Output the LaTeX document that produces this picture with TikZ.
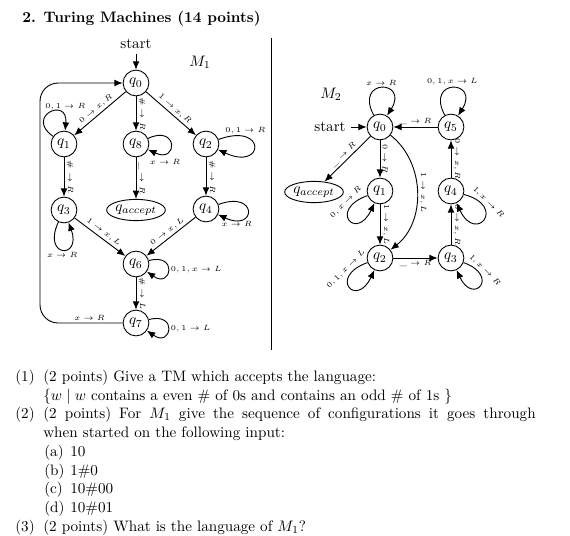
\documentclass[tikz,border=0pt]{standalone}
\usetikzlibrary{arrows.meta,positioning,shapes.geometric}
\begin{document}
\begin{tikzpicture}[x=0.66pt,y=-0.66pt,
    >={Latex[length=5.5pt,width=4.5pt]},
    tmstate/.style={circle,draw,semithick,minimum size=17pt,inner sep=0pt},
    acc/.style={ellipse,draw,semithick,minimum width=34pt,minimum height=14pt,inner sep=0pt},
    trans/.style={->,semithick},
    lbl/.style={font=\tiny,inner sep=1.5pt},
    vlbl/.style={lbl,rotate=-90,anchor=south},
    txt/.style={anchor=base west,inner sep=0pt}]
 \useasboundingbox (0,0) rectangle (570,536);
 \node[txt,font=\bfseries] (title) at (22,22) {2. Turing Machines (14 points)};
 % machine M1
 \node (start1) at (136,44) {start};
 \node (m1) at (200,62) {$M_1$};
 \node[tmstate] (q0) at (136,83) {$q_0$};
 \node[tmstate] (q1) at (64,144) {$q_1$};
 \node[tmstate] (q8) at (136,144) {$q_8$};
 \node[tmstate] (q2) at (206,144) {$q_2$};
 \node[tmstate] (q3) at (64,210) {$q_3$};
 \node[acc] (qacc) at (136,210) {$q_{accept}$};
 \node[tmstate] (q4) at (206,209) {$q_4$};
 \node[tmstate] (q6) at (136,264) {$q_6$};
 \node[tmstate] (q7) at (136,323) {$q_7$};
 \draw[trans] (start1) -- (q0);
 \draw[trans] (q0) -- node[lbl,sloped,above] {$0\to x,R$} (q1);
 \draw[trans] (q0) -- node[vlbl] {$\#\to R$} (q8);
 \draw[trans] (q0) -- node[lbl,sloped,above] {$1\to x,R$} (q2);
 \draw[trans] (q1) -- node[vlbl] {$\#\to R$} (q3);
 \draw[trans] (q8) -- node[vlbl] {$\_\to R$} (qacc);
 \draw[trans] (q2) -- node[vlbl] {$\#\to R$} (q4);
 \draw[trans] (q3) -- node[lbl,sloped,above] {$1\to x,L$} (q6);
 \draw[trans] (q4) -- node[lbl,sloped,above] {$0\to x,L$} (q6);
 \draw[trans] (q6) -- node[vlbl] {$\#\to L$} (q7);
 \draw[trans,rounded corners=12pt] (q7) -- node[lbl,above,pos=0.4] {$x\to R$} ++(-96,0) |- (q0);
 \draw[trans] (q1) to[out=145,in=85,min distance=23pt] node[lbl,above,pos=0.55,xshift=9pt] {$0,1\to R$} (q1);
 \draw[trans] (q8) to[out=25,in=-25,min distance=22pt] node[lbl,below=3pt,pos=0.75] {$x\to R$} (q8);
 \draw[trans] (q2) to[out=20,in=-25,min distance=34pt] node[lbl,above,pos=0.25] {$0,1\to R$} (q2);
 \draw[trans] (q3) to[out=-115,in=-70,min distance=26pt] node[lbl,below] {$x\to R$} (q3);
 \draw[trans] (q4) to[out=20,in=-25,min distance=28pt] node[lbl,below,pos=0.8] {$x\to R$} (q4);
 \draw[trans] (q6) to[out=15,in=-35,min distance=20pt] node[lbl,right] {$0,1,x\to L$} (q6);
 \draw[trans] (q7) to[out=15,in=-35,min distance=20pt] node[lbl,right] {$0,1\to L$} (q7);
 % separator
 \draw[semithick] (271,38) -- (271,350);
 % machine M2
 \node (m2) at (331,94) {$M_2$};
 \node[tmstate] (s0) at (380,127) {$q_0$};
 \node (start2) at (330,127) {start};
 \node[tmstate] (s5) at (451,127) {$q_5$};
 \node[acc] (sacc) at (314,192) {$q_{accept}$};
 \node[tmstate] (s1) at (380,191) {$q_1$};
 \node[tmstate] (s4) at (451,191) {$q_4$};
 \node[tmstate] (s2) at (380,258) {$q_2$};
 \node[tmstate] (s3) at (451,258) {$q_3$};
 \draw[trans] (start2) -- (s0);
 \draw[trans] (s0) to[out=118,in=58,min distance=28pt] node[lbl,above] {$x\to R$} (s0);
 \draw[trans] (s5) to[out=118,in=58,min distance=28pt] node[lbl,above] {$0,1,x\to L$} (s5);
 \draw[trans] (s5) -- node[lbl,above] {$\_\to R$} (s0);
 \draw[trans] (s0) -- node[lbl,sloped,above] {$\_\to R$} (sacc);
 \draw[trans] (s0) -- node[vlbl] {$0\to R$} (s1);
 \draw[trans] (s0) to[bend left=52] node[vlbl] {$1\to x,L$} (s2);
 \draw[trans] (s1) to[out=200,in=245,min distance=28pt] node[lbl,rotate=45,anchor=south,pos=0.22] {$0,x\to R$} (s1);
 \draw[trans] (s1) -- node[vlbl] {$1\to x,L$} (s2);
 \draw[trans] (s2) to[out=200,in=245,min distance=28pt] node[lbl,rotate=45,anchor=south,pos=0.22] {$0,1,x\to L$} (s2);
 \draw[trans] (s2) -- node[lbl,below] {$\_\to R$} (s3);
 \draw[trans] (s3) to[out=-20,in=-65,min distance=26pt] node[lbl,rotate=-45,anchor=south,pos=0.25] {$1,x\to R$} (s3);
 \draw[trans] (s3) -- node[vlbl] {$0\to x,R$} (s4);
 \draw[trans] (s4) to[out=-15,in=-65,min distance=30pt] node[lbl,rotate=-45,anchor=south,pos=0.25] {$1,x\to R$} (s4);
 \draw[trans] (s4) -- node[vlbl] {$0\to x,R$} (s5);
 % questions
 \node[txt] (n1) at (15,381) {(1)};
 \node[txt] (t1) at (43,381) {(2 points) Give a TM which accepts the language:};
 \node[txt] (t1b) at (43,400) {$\{w \mid w$ contains a even \# of 0s and contains an odd \# of 1s $\}$};
 \node[txt] (n2) at (15,418.5) {(2)};
 \node[txt] (t2) at (43,418.5) {\makebox[325pt][s]{(2 points) For $M_1$ give the sequence of configurations it goes through}};
 \node[txt] (t2b) at (43,437) {when started on the following input:};
 \node[txt] (na) at (44,456) {(a)};
 \node[txt] (ta) at (70,456) {10};
 \node[txt] (nb) at (44,475) {(b)};
 \node[txt] (tb) at (70,475) {1\#0};
 \node[txt] (nc) at (44,493.5) {(c)};
 \node[txt] (tc) at (70,493.5) {10\#00};
 \node[txt] (nd) at (44,512) {(d)};
 \node[txt] (td) at (70,512) {10\#01};
 \node[txt] (n3) at (15,531) {(3)};
 \node[txt] (t3) at (43,531) {(2 points) What is the language of $M_1$?};
\end{tikzpicture}
\end{document}
